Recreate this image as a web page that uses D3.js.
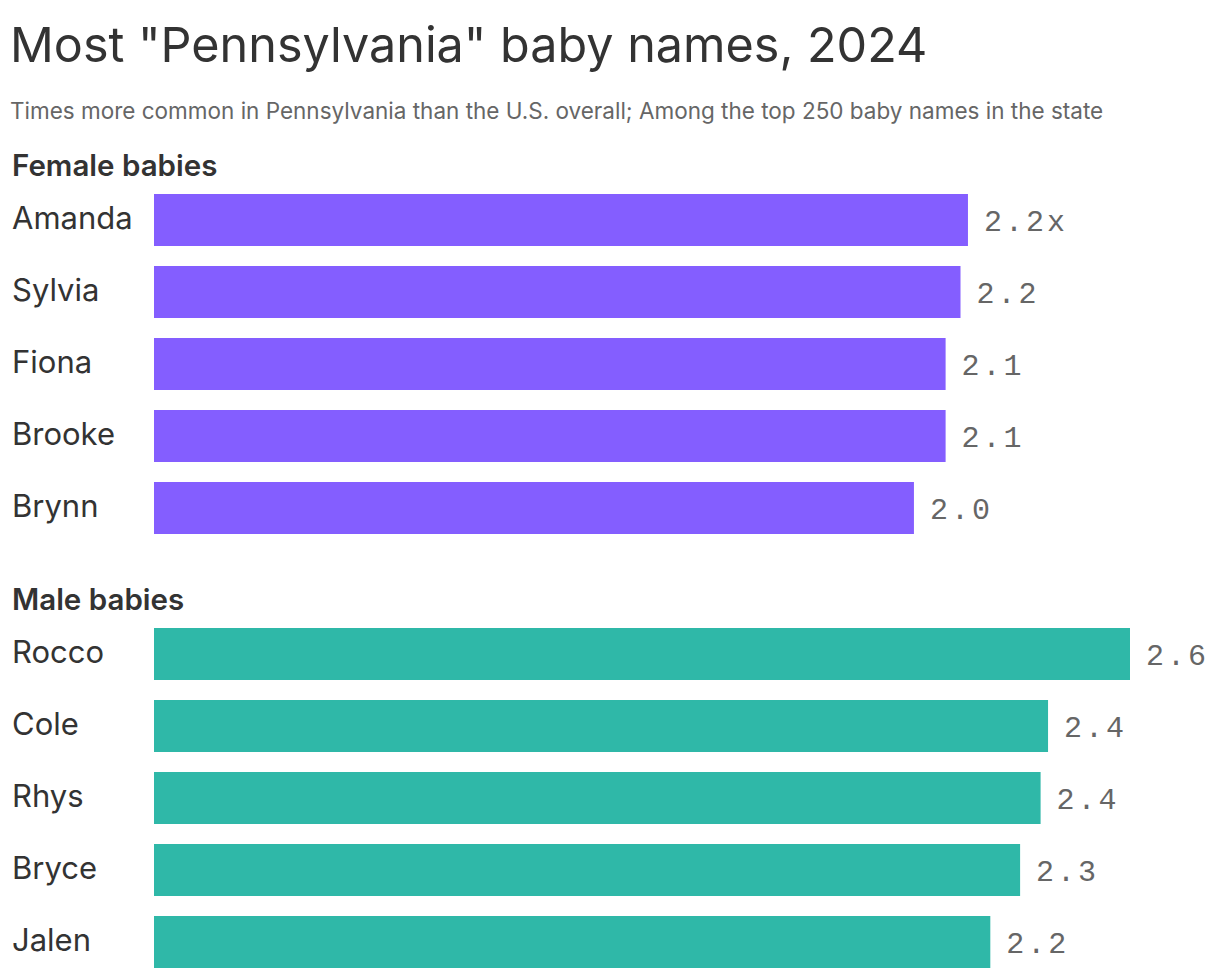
<!DOCTYPE html>
<html>
<head>
<meta charset="utf-8">
<script src="https://cdn.jsdelivr.net/npm/d3@7"></script>
<style>
  body { margin: 0; background: #fff; }
  text { font-family: Inter, "Noto Sans", sans-serif; }
</style>
</head>
<body>
<div id="chart"></div>
<script>
// Data
const femaleNames = ["Amanda", "Sylvia", "Fiona", "Brooke", "Brynn"];
const femaleValues = [2.185, 2.165, 2.125, 2.125, 2.04];
const maleNames = ["Rocco", "Cole", "Rhys", "Bryce", "Jalen"];
const maleValues = [2.62, 2.40, 2.38, 2.325, 2.245];

const width = 1220;
const height = 978;

const svg = d3.select("#chart")
    .append("svg")
    .attr("width", width)
    .attr("height", height);

// Header
svg.append("text")
    .attr("x", 10).attr("y", 62)
    .attr("font-size", 48.5)
    .attr("fill", "#333")
    .text('Most "Pennsylvania" baby names, 2024');

svg.append("text")
    .attr("x", 10).attr("y", 119)
    .attr("font-size", 22.5)
    .attr("fill", "#666")
    .text("Times more common in Pennsylvania than the U.S. overall; Among the top 250 baby names in the state");

// Shared x scale
const maxVal = d3.max(femaleValues.concat(maleValues));
const x = d3.scaleLinear()
    .domain([0, maxVal])
    .range([154, 1130]);

const fmt = d3.format(".1f");

function drawGroup(title, names, values, color, top, suffix) {
    const g = svg.append("g");

    g.append("text")
        .attr("x", 12).attr("y", top - 18)
        .attr("font-size", 29.5)
        .attr("font-weight", 600)
        .attr("fill", "#333")
        .text(title);

    // 52px bars on a 72px step
    const y = d3.scaleBand()
        .domain(names)
        .range([top, top + names.length * 72 - 20])
        .paddingInner(20 / 72)
        .paddingOuter(0);

    const rows = g.selectAll("g.row")
        .data(names.map((n, i) => ({name: n, value: values[i], i: i})))
        .join("g")
        .attr("class", "row");

    rows.append("rect")
        .attr("x", x(0))
        .attr("y", d => y(d.name))
        .attr("width", d => x(d.value) - x(0))
        .attr("height", y.bandwidth())
        .attr("fill", color);

    rows.append("text")
        .attr("x", 12)
        .attr("y", d => y(d.name) + y.bandwidth() / 2 - 2)
        .attr("dy", "0.35em")
        .attr("font-size", 31)
        .attr("fill", "#333")
        .text(d => d.name);

    rows.append("text")
        .attr("x", d => x(d.value) + 16)
        .attr("y", d => y(d.name) + y.bandwidth() / 2)
        .attr("dy", "0.36em")
        .attr("font-size", 30)
        .attr("letter-spacing", 3)
        .attr("fill", "#666")
        .style("font-family", "'Liberation Mono', 'DejaVu Sans Mono', monospace")
        .text(d => fmt(d.value) + (d.i === 0 ? suffix : ""));
}

drawGroup("Female babies", femaleNames, femaleValues, "#845eff", 194, "x");
drawGroup("Male babies", maleNames, maleValues, "#2fb8a8", 628, "");
</script>
</body>
</html>
